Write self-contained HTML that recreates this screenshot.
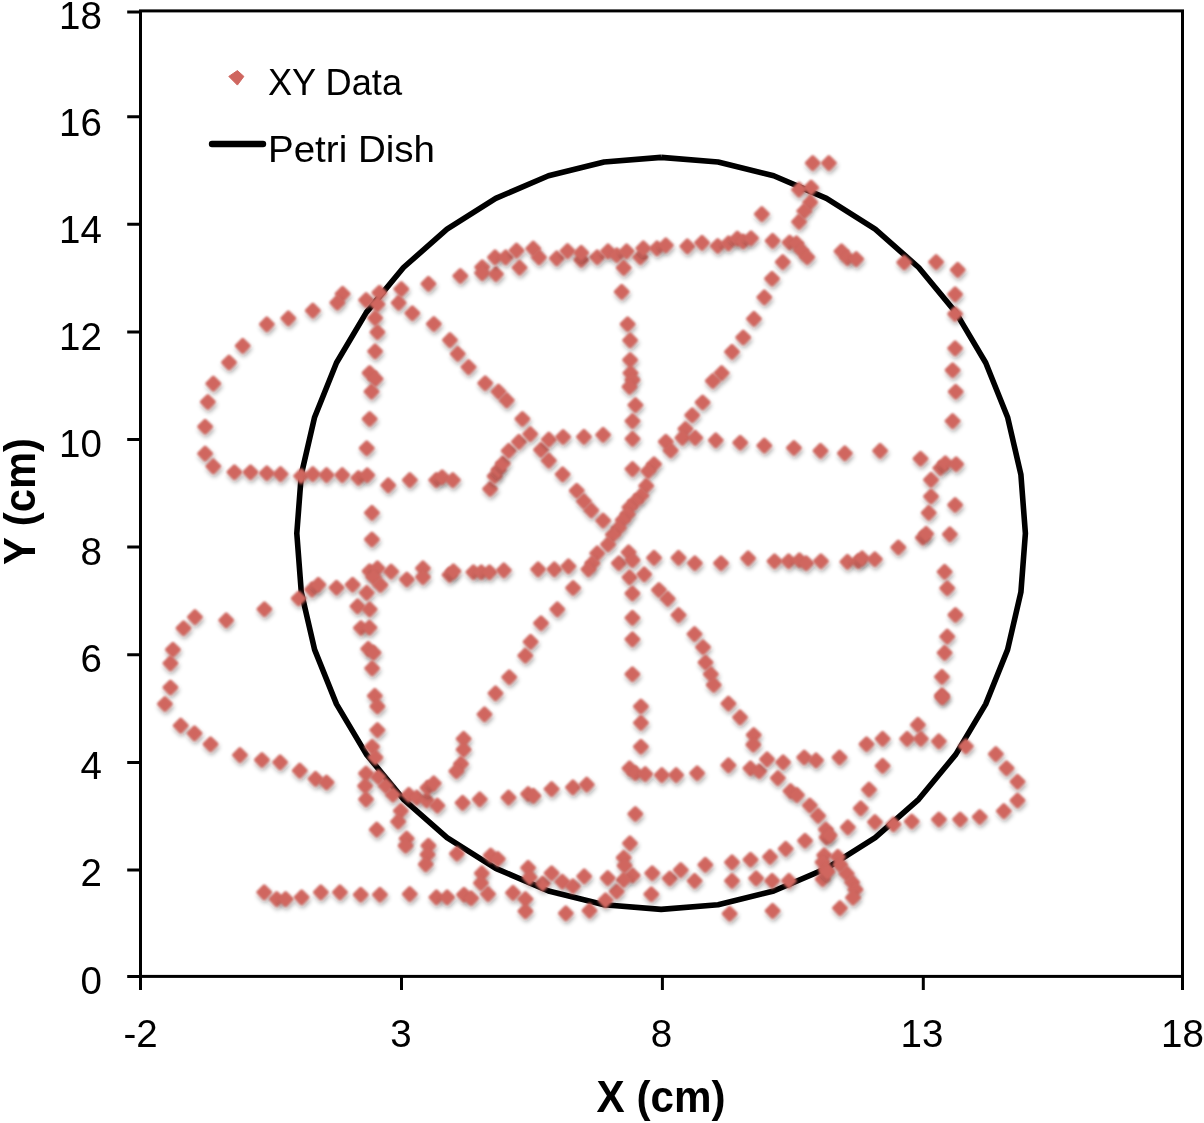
<!DOCTYPE html>
<html><head><meta charset="utf-8"><title>XY Data</title>
<style>
html,body{margin:0;padding:0;background:#fff;}
svg{display:block;}
text{font-family:"Liberation Sans",sans-serif;fill:#000;}
</style></head><body>
<svg width="1204" height="1123" viewBox="0 0 1204 1123">
<defs>
<filter id="sh" x="-60%" y="-60%" width="240%" height="240%"><feGaussianBlur in="SourceAlpha" stdDeviation="2.4"/><feOffset dx="0.8" dy="2.6"/><feComponentTransfer result="s"><feFuncA type="linear" slope="0.38"/></feComponentTransfer><feGaussianBlur in="SourceGraphic" stdDeviation="0.85" result="g"/><feMerge><feMergeNode in="s"/><feMergeNode in="g"/></feMerge></filter>
<path id="d" d="M-0.8-7.7L0.8-7.7L7.7-0.8L7.7 0.8L0.8 7.7L-0.8 7.7L-7.7 0.8L-7.7-0.8Z"/>
</defs>
<rect width="1204" height="1123" fill="#fff"/>
<rect x="140.5" y="10.9" width="1042.0" height="965.5" fill="none" stroke="#000" stroke-width="3"/>
<path d="M127.2 976.4H140.5 M127.2 870.0H140.5 M127.2 762.4H140.5 M127.2 654.8H140.5 M127.2 547.1H140.5 M127.2 439.5H140.5 M127.2 331.9H140.5 M127.2 224.3H140.5 M127.2 116.7H140.5 M127.2 12.0H140.5 M140.5 976.4V990 M401.5 976.4V990 M662.4 976.4V990 M923.3 976.4V990 M1182.5 976.4V990" stroke="#000" stroke-width="3" fill="none"/>
<text x="101.8" y="993.7" font-size="38.5" text-anchor="end">0</text>
<text x="101.8" y="886.4" font-size="38.5" text-anchor="end">2</text>
<text x="101.8" y="779.1" font-size="38.5" text-anchor="end">4</text>
<text x="101.8" y="671.9" font-size="38.5" text-anchor="end">6</text>
<text x="101.8" y="564.6" font-size="38.5" text-anchor="end">8</text>
<text x="101.8" y="457.3" font-size="38.5" text-anchor="end">10</text>
<text x="101.8" y="350.0" font-size="38.5" text-anchor="end">12</text>
<text x="101.8" y="242.8" font-size="38.5" text-anchor="end">14</text>
<text x="101.8" y="135.5" font-size="38.5" text-anchor="end">16</text>
<text x="101.8" y="29.4" font-size="38.5" text-anchor="end">18</text>
<text x="140.5" y="1046.7" font-size="38.5" text-anchor="middle">-2</text>
<text x="401.0" y="1046.7" font-size="38.5" text-anchor="middle">3</text>
<text x="661.5" y="1046.7" font-size="38.5" text-anchor="middle">8</text>
<text x="922.0" y="1046.7" font-size="38.5" text-anchor="middle">13</text>
<text x="1182.5" y="1046.7" font-size="38.5" text-anchor="middle">18</text>
<text x="661" y="1112" font-size="44.5" font-weight="bold" text-anchor="middle" textLength="129" lengthAdjust="spacingAndGlyphs">X (cm)</text>
<text transform="translate(35.2 501.5) rotate(-90)" font-size="44.5" font-weight="bold" text-anchor="middle" textLength="127" lengthAdjust="spacingAndGlyphs">Y (cm)</text>
<polyline points="661.1,157.4 718.1,162.0 773.7,175.8 826.5,198.4 875.2,229.2 918.7,267.5 955.8,312.4 985.7,362.7 1007.6,417.2 1020.9,474.6 1025.4,533.4 1020.9,592.2 1007.6,649.6 985.7,704.1 955.8,754.4 918.7,799.3 875.2,837.6 826.5,868.4 773.7,891.0 718.1,904.8 661.1,909.4 604.1,904.8 548.5,891.0 495.7,868.4 447.0,837.6 403.5,799.3 366.4,754.4 336.5,704.1 314.6,649.6 301.3,592.2 296.8,533.4 301.3,474.6 314.6,417.2 336.5,362.7 366.4,312.4 403.5,267.5 447.0,229.2 495.7,198.4 548.5,175.8 604.1,162.0 661.1,157.4" fill="none" stroke="#000" stroke-width="5.6" stroke-linejoin="round"/>
<g fill="#d0665f">
<use href="#d" x="342.6" y="293.8" filter="url(#sh)"/><use href="#d" x="337.3" y="302.6" filter="url(#sh)"/><use href="#d" x="312.8" y="310.5" filter="url(#sh)"/><use href="#d" x="288.3" y="318.3" filter="url(#sh)"/><use href="#d" x="266.8" y="324.2" filter="url(#sh)"/><use href="#d" x="242.7" y="345.7" filter="url(#sh)"/><use href="#d" x="229.0" y="362.4" filter="url(#sh)"/><use href="#d" x="213.3" y="383.5" filter="url(#sh)"/><use href="#d" x="207.8" y="401.9" filter="url(#sh)"/><use href="#d" x="205.1" y="426.6" filter="url(#sh)"/><use href="#d" x="205.1" y="453.5" filter="url(#sh)"/><use href="#d" x="213.3" y="466.2" filter="url(#sh)"/><use href="#d" x="234.4" y="472.1" filter="url(#sh)"/><use href="#d" x="250.5" y="472.1" filter="url(#sh)"/><use href="#d" x="266.8" y="473.1" filter="url(#sh)"/><use href="#d" x="280.5" y="474.0" filter="url(#sh)"/><use href="#d" x="301.1" y="476.0" filter="url(#sh)"/><use href="#d" x="312.8" y="474.0" filter="url(#sh)"/><use href="#d" x="326.5" y="475.0" filter="url(#sh)"/><use href="#d" x="342.2" y="475.0" filter="url(#sh)"/><use href="#d" x="366.1" y="300.0" filter="url(#sh)"/><use href="#d" x="379.4" y="292.6" filter="url(#sh)"/><use href="#d" x="377.4" y="304.3" filter="url(#sh)"/><use href="#d" x="375.1" y="318.0" filter="url(#sh)"/><use href="#d" x="377.4" y="332.1" filter="url(#sh)"/><use href="#d" x="375.1" y="351.3" filter="url(#sh)"/><use href="#d" x="369.6" y="372.9" filter="url(#sh)"/><use href="#d" x="375.5" y="378.8" filter="url(#sh)"/><use href="#d" x="371.5" y="391.5" filter="url(#sh)"/><use href="#d" x="369.6" y="418.9" filter="url(#sh)"/><use href="#d" x="401.3" y="289.0" filter="url(#sh)"/><use href="#d" x="398.6" y="302.8" filter="url(#sh)"/><use href="#d" x="412.3" y="313.1" filter="url(#sh)"/><use href="#d" x="433.8" y="323.9" filter="url(#sh)"/><use href="#d" x="449.9" y="340.0" filter="url(#sh)"/><use href="#d" x="457.7" y="353.7" filter="url(#sh)"/><use href="#d" x="468.5" y="367.0" filter="url(#sh)"/><use href="#d" x="485.2" y="383.1" filter="url(#sh)"/><use href="#d" x="498.5" y="391.5" filter="url(#sh)"/><use href="#d" x="506.7" y="400.3" filter="url(#sh)"/><use href="#d" x="522.4" y="418.9" filter="url(#sh)"/><use href="#d" x="428.4" y="283.8" filter="url(#sh)"/><use href="#d" x="460.3" y="275.9" filter="url(#sh)"/><use href="#d" x="482.2" y="267.1" filter="url(#sh)"/><use href="#d" x="482.2" y="273.0" filter="url(#sh)"/><use href="#d" x="495.9" y="274.0" filter="url(#sh)"/><use href="#d" x="495.0" y="257.3" filter="url(#sh)"/><use href="#d" x="505.7" y="257.3" filter="url(#sh)"/><use href="#d" x="516.5" y="250.5" filter="url(#sh)"/><use href="#d" x="519.5" y="267.5" filter="url(#sh)"/><use href="#d" x="533.2" y="248.5" filter="url(#sh)"/><use href="#d" x="539.0" y="257.3" filter="url(#sh)"/><use href="#d" x="556.7" y="258.3" filter="url(#sh)"/><use href="#d" x="567.5" y="251.0" filter="url(#sh)"/><use href="#d" x="581.2" y="259.9" filter="url(#sh)"/><use href="#d" x="597.2" y="257.1" filter="url(#sh)"/><use href="#d" x="608.0" y="251.2" filter="url(#sh)"/><use href="#d" x="616.8" y="255.1" filter="url(#sh)"/><use href="#d" x="626.6" y="251.2" filter="url(#sh)"/><use href="#d" x="623.7" y="267.8" filter="url(#sh)"/><use href="#d" x="640.3" y="257.1" filter="url(#sh)"/><use href="#d" x="643.3" y="248.2" filter="url(#sh)"/><use href="#d" x="657.0" y="248.2" filter="url(#sh)"/><use href="#d" x="665.8" y="245.3" filter="url(#sh)"/><use href="#d" x="687.3" y="246.3" filter="url(#sh)"/><use href="#d" x="702.0" y="242.8" filter="url(#sh)"/><use href="#d" x="717.7" y="245.9" filter="url(#sh)"/><use href="#d" x="728.5" y="243.3" filter="url(#sh)"/><use href="#d" x="737.3" y="238.5" filter="url(#sh)"/><use href="#d" x="743.2" y="241.4" filter="url(#sh)"/><use href="#d" x="751.0" y="238.1" filter="url(#sh)"/><use href="#d" x="772.6" y="240.8" filter="url(#sh)"/><use href="#d" x="761.8" y="214.0" filter="url(#sh)"/><use href="#d" x="621.7" y="291.7" filter="url(#sh)"/><use href="#d" x="627.6" y="324.1" filter="url(#sh)"/><use href="#d" x="630.1" y="340.3" filter="url(#sh)"/><use href="#d" x="630.1" y="359.9" filter="url(#sh)"/><use href="#d" x="772.0" y="278.6" filter="url(#sh)"/><use href="#d" x="764.3" y="297.2" filter="url(#sh)"/><use href="#d" x="753.9" y="318.8" filter="url(#sh)"/><use href="#d" x="743.2" y="337.4" filter="url(#sh)"/><use href="#d" x="732.0" y="351.7" filter="url(#sh)"/><use href="#d" x="812.7" y="163.0" filter="url(#sh)"/><use href="#d" x="828.8" y="163.0" filter="url(#sh)"/><use href="#d" x="799.0" y="189.5" filter="url(#sh)"/><use href="#d" x="811.1" y="187.5" filter="url(#sh)"/><use href="#d" x="810.2" y="202.2" filter="url(#sh)"/><use href="#d" x="804.3" y="211.0" filter="url(#sh)"/><use href="#d" x="799.0" y="221.8" filter="url(#sh)"/><use href="#d" x="789.6" y="242.4" filter="url(#sh)"/><use href="#d" x="796.4" y="243.3" filter="url(#sh)"/><use href="#d" x="801.3" y="250.2" filter="url(#sh)"/><use href="#d" x="807.2" y="257.1" filter="url(#sh)"/><use href="#d" x="782.7" y="262.0" filter="url(#sh)"/><use href="#d" x="841.5" y="251.2" filter="url(#sh)"/><use href="#d" x="847.4" y="258.0" filter="url(#sh)"/><use href="#d" x="856.2" y="259.0" filter="url(#sh)"/><use href="#d" x="904.2" y="262.4" filter="url(#sh)"/><use href="#d" x="936.1" y="262.0" filter="url(#sh)"/><use href="#d" x="957.7" y="269.8" filter="url(#sh)"/><use href="#d" x="955.1" y="294.3" filter="url(#sh)"/><use href="#d" x="955.1" y="313.9" filter="url(#sh)"/><use href="#d" x="955.1" y="348.2" filter="url(#sh)"/><use href="#d" x="358.4" y="477.9" filter="url(#sh)"/><use href="#d" x="194.9" y="617.0" filter="url(#sh)"/><use href="#d" x="264.4" y="609.1" filter="url(#sh)"/><use href="#d" x="298.7" y="598.4" filter="url(#sh)"/><use href="#d" x="312.0" y="589.5" filter="url(#sh)"/><use href="#d" x="318.3" y="584.6" filter="url(#sh)"/><use href="#d" x="336.5" y="587.6" filter="url(#sh)"/><use href="#d" x="352.6" y="584.6" filter="url(#sh)"/><use href="#d" x="357.5" y="606.2" filter="url(#sh)"/><use href="#d" x="366.7" y="448.1" filter="url(#sh)"/><use href="#d" x="367.2" y="475.1" filter="url(#sh)"/><use href="#d" x="371.9" y="512.8" filter="url(#sh)"/><use href="#d" x="371.9" y="539.4" filter="url(#sh)"/><use href="#d" x="388.2" y="485.3" filter="url(#sh)"/><use href="#d" x="409.8" y="480.0" filter="url(#sh)"/><use href="#d" x="436.2" y="480.0" filter="url(#sh)"/><use href="#d" x="442.1" y="477.1" filter="url(#sh)"/><use href="#d" x="452.8" y="480.0" filter="url(#sh)"/><use href="#d" x="490.1" y="488.9" filter="url(#sh)"/><use href="#d" x="494.6" y="476.1" filter="url(#sh)"/><use href="#d" x="498.5" y="469.7" filter="url(#sh)"/><use href="#d" x="502.8" y="463.4" filter="url(#sh)"/><use href="#d" x="508.7" y="450.7" filter="url(#sh)"/><use href="#d" x="518.9" y="441.8" filter="url(#sh)"/><use href="#d" x="530.2" y="434.0" filter="url(#sh)"/><use href="#d" x="541.0" y="449.7" filter="url(#sh)"/><use href="#d" x="548.8" y="460.5" filter="url(#sh)"/><use href="#d" x="562.6" y="474.2" filter="url(#sh)"/><use href="#d" x="548.8" y="439.5" filter="url(#sh)"/><use href="#d" x="563.1" y="436.9" filter="url(#sh)"/><use href="#d" x="369.6" y="571.1" filter="url(#sh)"/><use href="#d" x="377.4" y="568.2" filter="url(#sh)"/><use href="#d" x="373.5" y="577.0" filter="url(#sh)"/><use href="#d" x="380.4" y="584.9" filter="url(#sh)"/><use href="#d" x="391.1" y="571.5" filter="url(#sh)"/><use href="#d" x="406.8" y="579.4" filter="url(#sh)"/><use href="#d" x="422.9" y="568.2" filter="url(#sh)"/><use href="#d" x="422.9" y="577.0" filter="url(#sh)"/><use href="#d" x="449.5" y="574.7" filter="url(#sh)"/><use href="#d" x="453.4" y="571.1" filter="url(#sh)"/><use href="#d" x="473.4" y="572.1" filter="url(#sh)"/><use href="#d" x="481.3" y="572.1" filter="url(#sh)"/><use href="#d" x="489.5" y="572.1" filter="url(#sh)"/><use href="#d" x="503.8" y="570.2" filter="url(#sh)"/><use href="#d" x="538.1" y="569.2" filter="url(#sh)"/><use href="#d" x="554.3" y="569.2" filter="url(#sh)"/><use href="#d" x="568.4" y="566.2" filter="url(#sh)"/><use href="#d" x="366.7" y="592.7" filter="url(#sh)"/><use href="#d" x="369.6" y="609.3" filter="url(#sh)"/><use href="#d" x="360.9" y="627.9" filter="url(#sh)"/><use href="#d" x="369.4" y="627.5" filter="url(#sh)"/><use href="#d" x="557.3" y="609.3" filter="url(#sh)"/><use href="#d" x="541.0" y="623.1" filter="url(#sh)"/><use href="#d" x="630.5" y="373.0" filter="url(#sh)"/><use href="#d" x="632.5" y="379.9" filter="url(#sh)"/><use href="#d" x="629.5" y="386.7" filter="url(#sh)"/><use href="#d" x="635.4" y="405.0" filter="url(#sh)"/><use href="#d" x="632.5" y="421.0" filter="url(#sh)"/><use href="#d" x="632.5" y="438.7" filter="url(#sh)"/><use href="#d" x="632.5" y="469.0" filter="url(#sh)"/><use href="#d" x="583.9" y="436.7" filter="url(#sh)"/><use href="#d" x="603.1" y="434.7" filter="url(#sh)"/><use href="#d" x="715.7" y="440.2" filter="url(#sh)"/><use href="#d" x="740.2" y="442.6" filter="url(#sh)"/><use href="#d" x="764.3" y="445.5" filter="url(#sh)"/><use href="#d" x="721.6" y="373.0" filter="url(#sh)"/><use href="#d" x="712.8" y="380.9" filter="url(#sh)"/><use href="#d" x="702.6" y="402.4" filter="url(#sh)"/><use href="#d" x="692.2" y="415.1" filter="url(#sh)"/><use href="#d" x="685.4" y="428.9" filter="url(#sh)"/><use href="#d" x="682.4" y="437.7" filter="url(#sh)"/><use href="#d" x="695.2" y="437.7" filter="url(#sh)"/><use href="#d" x="665.8" y="441.6" filter="url(#sh)"/><use href="#d" x="670.7" y="450.4" filter="url(#sh)"/><use href="#d" x="654.0" y="464.1" filter="url(#sh)"/><use href="#d" x="648.2" y="471.0" filter="url(#sh)"/><use href="#d" x="646.2" y="485.7" filter="url(#sh)"/><use href="#d" x="641.3" y="495.5" filter="url(#sh)"/><use href="#d" x="635.4" y="501.3" filter="url(#sh)"/><use href="#d" x="629.5" y="507.2" filter="url(#sh)"/><use href="#d" x="627.6" y="514.1" filter="url(#sh)"/><use href="#d" x="622.7" y="520.0" filter="url(#sh)"/><use href="#d" x="618.8" y="527.8" filter="url(#sh)"/><use href="#d" x="612.9" y="534.6" filter="url(#sh)"/><use href="#d" x="608.0" y="544.4" filter="url(#sh)"/><use href="#d" x="597.2" y="553.3" filter="url(#sh)"/><use href="#d" x="592.3" y="563.1" filter="url(#sh)"/><use href="#d" x="576.7" y="490.6" filter="url(#sh)"/><use href="#d" x="583.9" y="501.3" filter="url(#sh)"/><use href="#d" x="591.3" y="510.2" filter="url(#sh)"/><use href="#d" x="603.1" y="520.5" filter="url(#sh)"/><use href="#d" x="618.8" y="563.1" filter="url(#sh)"/><use href="#d" x="628.6" y="552.3" filter="url(#sh)"/><use href="#d" x="632.5" y="560.1" filter="url(#sh)"/><use href="#d" x="654.0" y="557.8" filter="url(#sh)"/><use href="#d" x="678.5" y="557.8" filter="url(#sh)"/><use href="#d" x="694.8" y="563.1" filter="url(#sh)"/><use href="#d" x="721.0" y="563.1" filter="url(#sh)"/><use href="#d" x="748.1" y="558.2" filter="url(#sh)"/><use href="#d" x="774.5" y="561.1" filter="url(#sh)"/><use href="#d" x="952.6" y="370.1" filter="url(#sh)"/><use href="#d" x="955.7" y="391.6" filter="url(#sh)"/><use href="#d" x="952.6" y="421.0" filter="url(#sh)"/><use href="#d" x="793.9" y="447.9" filter="url(#sh)"/><use href="#d" x="820.5" y="450.8" filter="url(#sh)"/><use href="#d" x="844.8" y="453.3" filter="url(#sh)"/><use href="#d" x="880.1" y="450.8" filter="url(#sh)"/><use href="#d" x="920.5" y="458.6" filter="url(#sh)"/><use href="#d" x="940.4" y="468.0" filter="url(#sh)"/><use href="#d" x="945.3" y="463.1" filter="url(#sh)"/><use href="#d" x="956.1" y="464.1" filter="url(#sh)"/><use href="#d" x="931.0" y="479.8" filter="url(#sh)"/><use href="#d" x="931.0" y="496.4" filter="url(#sh)"/><use href="#d" x="928.7" y="512.7" filter="url(#sh)"/><use href="#d" x="955.1" y="504.9" filter="url(#sh)"/><use href="#d" x="922.8" y="537.6" filter="url(#sh)"/><use href="#d" x="926.1" y="533.7" filter="url(#sh)"/><use href="#d" x="949.8" y="534.3" filter="url(#sh)"/><use href="#d" x="898.3" y="547.4" filter="url(#sh)"/><use href="#d" x="788.6" y="561.1" filter="url(#sh)"/><use href="#d" x="799.4" y="560.1" filter="url(#sh)"/><use href="#d" x="806.2" y="563.1" filter="url(#sh)"/><use href="#d" x="820.9" y="561.1" filter="url(#sh)"/><use href="#d" x="847.4" y="561.7" filter="url(#sh)"/><use href="#d" x="858.2" y="561.1" filter="url(#sh)"/><use href="#d" x="862.1" y="558.2" filter="url(#sh)"/><use href="#d" x="874.8" y="559.1" filter="url(#sh)"/><use href="#d" x="226.2" y="620.3" filter="url(#sh)"/><use href="#d" x="183.5" y="628.1" filter="url(#sh)"/><use href="#d" x="172.9" y="649.6" filter="url(#sh)"/><use href="#d" x="170.4" y="663.3" filter="url(#sh)"/><use href="#d" x="170.4" y="687.4" filter="url(#sh)"/><use href="#d" x="164.9" y="703.9" filter="url(#sh)"/><use href="#d" x="180.7" y="725.5" filter="url(#sh)"/><use href="#d" x="194.5" y="733.3" filter="url(#sh)"/><use href="#d" x="210.5" y="744.1" filter="url(#sh)"/><use href="#d" x="239.9" y="755.0" filter="url(#sh)"/><use href="#d" x="261.9" y="759.9" filter="url(#sh)"/><use href="#d" x="280.1" y="762.3" filter="url(#sh)"/><use href="#d" x="299.7" y="770.5" filter="url(#sh)"/><use href="#d" x="368.2" y="648.7" filter="url(#sh)"/><use href="#d" x="373.5" y="652.6" filter="url(#sh)"/><use href="#d" x="372.1" y="668.2" filter="url(#sh)"/><use href="#d" x="374.8" y="695.7" filter="url(#sh)"/><use href="#d" x="377.4" y="706.4" filter="url(#sh)"/><use href="#d" x="377.4" y="730.0" filter="url(#sh)"/><use href="#d" x="372.1" y="746.6" filter="url(#sh)"/><use href="#d" x="375.4" y="757.4" filter="url(#sh)"/><use href="#d" x="509.2" y="677.1" filter="url(#sh)"/><use href="#d" x="495.5" y="693.3" filter="url(#sh)"/><use href="#d" x="484.5" y="714.3" filter="url(#sh)"/><use href="#d" x="463.6" y="738.8" filter="url(#sh)"/><use href="#d" x="463.6" y="749.5" filter="url(#sh)"/><use href="#d" x="461.0" y="763.8" filter="url(#sh)"/><use href="#d" x="456.3" y="771.1" filter="url(#sh)"/><use href="#d" x="588.4" y="569.3" filter="url(#sh)"/><use href="#d" x="573.1" y="587.9" filter="url(#sh)"/><use href="#d" x="530.6" y="641.8" filter="url(#sh)"/><use href="#d" x="525.3" y="655.5" filter="url(#sh)"/><use href="#d" x="629.5" y="577.2" filter="url(#sh)"/><use href="#d" x="644.2" y="574.2" filter="url(#sh)"/><use href="#d" x="632.4" y="593.4" filter="url(#sh)"/><use href="#d" x="632.4" y="617.7" filter="url(#sh)"/><use href="#d" x="632.4" y="639.3" filter="url(#sh)"/><use href="#d" x="632.4" y="674.1" filter="url(#sh)"/><use href="#d" x="640.9" y="706.4" filter="url(#sh)"/><use href="#d" x="640.9" y="722.7" filter="url(#sh)"/><use href="#d" x="640.9" y="746.6" filter="url(#sh)"/><use href="#d" x="658.9" y="589.9" filter="url(#sh)"/><use href="#d" x="667.7" y="598.7" filter="url(#sh)"/><use href="#d" x="678.5" y="615.0" filter="url(#sh)"/><use href="#d" x="694.5" y="634.0" filter="url(#sh)"/><use href="#d" x="703.0" y="647.1" filter="url(#sh)"/><use href="#d" x="705.5" y="662.4" filter="url(#sh)"/><use href="#d" x="710.8" y="674.1" filter="url(#sh)"/><use href="#d" x="713.7" y="684.9" filter="url(#sh)"/><use href="#d" x="728.4" y="703.5" filter="url(#sh)"/><use href="#d" x="629.5" y="768.2" filter="url(#sh)"/><use href="#d" x="635.4" y="773.1" filter="url(#sh)"/><use href="#d" x="645.2" y="774.0" filter="url(#sh)"/><use href="#d" x="661.8" y="775.0" filter="url(#sh)"/><use href="#d" x="676.1" y="775.0" filter="url(#sh)"/><use href="#d" x="697.1" y="773.1" filter="url(#sh)"/><use href="#d" x="728.4" y="765.2" filter="url(#sh)"/><use href="#d" x="740.0" y="717.2" filter="url(#sh)"/><use href="#d" x="753.7" y="734.9" filter="url(#sh)"/><use href="#d" x="753.3" y="744.6" filter="url(#sh)"/><use href="#d" x="750.4" y="768.2" filter="url(#sh)"/><use href="#d" x="759.2" y="771.1" filter="url(#sh)"/><use href="#d" x="767.0" y="759.3" filter="url(#sh)"/><use href="#d" x="783.1" y="762.3" filter="url(#sh)"/><use href="#d" x="777.8" y="778.0" filter="url(#sh)"/><use href="#d" x="804.2" y="757.4" filter="url(#sh)"/><use href="#d" x="816.0" y="760.3" filter="url(#sh)"/><use href="#d" x="839.5" y="757.4" filter="url(#sh)"/><use href="#d" x="866.5" y="744.1" filter="url(#sh)"/><use href="#d" x="882.6" y="738.8" filter="url(#sh)"/><use href="#d" x="882.6" y="765.8" filter="url(#sh)"/><use href="#d" x="907.1" y="738.8" filter="url(#sh)"/><use href="#d" x="917.9" y="724.7" filter="url(#sh)"/><use href="#d" x="920.8" y="738.8" filter="url(#sh)"/><use href="#d" x="944.6" y="571.8" filter="url(#sh)"/><use href="#d" x="947.2" y="588.1" filter="url(#sh)"/><use href="#d" x="955.4" y="614.9" filter="url(#sh)"/><use href="#d" x="947.2" y="636.5" filter="url(#sh)"/><use href="#d" x="944.6" y="652.8" filter="url(#sh)"/><use href="#d" x="941.9" y="676.7" filter="url(#sh)"/><use href="#d" x="941.9" y="695.3" filter="url(#sh)"/><use href="#d" x="942.3" y="697.2" filter="url(#sh)"/><use href="#d" x="938.8" y="741.3" filter="url(#sh)"/><use href="#d" x="965.8" y="746.2" filter="url(#sh)"/><use href="#d" x="995.8" y="754.0" filter="url(#sh)"/><use href="#d" x="1006.5" y="768.1" filter="url(#sh)"/><use href="#d" x="1017.5" y="781.6" filter="url(#sh)"/><use href="#d" x="1017.5" y="800.4" filter="url(#sh)"/><use href="#d" x="1003.8" y="811.0" filter="url(#sh)"/><use href="#d" x="979.7" y="816.9" filter="url(#sh)"/><use href="#d" x="960.1" y="819.4" filter="url(#sh)"/><use href="#d" x="938.9" y="819.4" filter="url(#sh)"/><use href="#d" x="911.7" y="821.4" filter="url(#sh)"/><use href="#d" x="893.5" y="824.3" filter="url(#sh)"/><use href="#d" x="874.9" y="822.0" filter="url(#sh)"/><use href="#d" x="847.8" y="827.3" filter="url(#sh)"/><use href="#d" x="860.7" y="808.3" filter="url(#sh)"/><use href="#d" x="869.0" y="789.5" filter="url(#sh)"/><use href="#d" x="790.5" y="791.0" filter="url(#sh)"/><use href="#d" x="796.9" y="795.0" filter="url(#sh)"/><use href="#d" x="809.8" y="805.4" filter="url(#sh)"/><use href="#d" x="818.1" y="815.8" filter="url(#sh)"/><use href="#d" x="825.8" y="829.4" filter="url(#sh)"/><use href="#d" x="826.6" y="837.4" filter="url(#sh)"/><use href="#d" x="824.2" y="855.1" filter="url(#sh)"/><use href="#d" x="822.6" y="862.3" filter="url(#sh)"/><use href="#d" x="825.8" y="869.5" filter="url(#sh)"/><use href="#d" x="822.6" y="879.1" filter="url(#sh)"/><use href="#d" x="837.8" y="856.7" filter="url(#sh)"/><use href="#d" x="840.2" y="864.7" filter="url(#sh)"/><use href="#d" x="846.6" y="873.5" filter="url(#sh)"/><use href="#d" x="852.2" y="882.3" filter="url(#sh)"/><use href="#d" x="855.4" y="889.5" filter="url(#sh)"/><use href="#d" x="853.0" y="897.5" filter="url(#sh)"/><use href="#d" x="839.9" y="908.0" filter="url(#sh)"/><use href="#d" x="805.0" y="840.6" filter="url(#sh)"/><use href="#d" x="785.7" y="848.7" filter="url(#sh)"/><use href="#d" x="770.0" y="856.7" filter="url(#sh)"/><use href="#d" x="750.5" y="859.6" filter="url(#sh)"/><use href="#d" x="732.0" y="862.3" filter="url(#sh)"/><use href="#d" x="732.0" y="880.7" filter="url(#sh)"/><use href="#d" x="756.1" y="878.3" filter="url(#sh)"/><use href="#d" x="772.1" y="880.7" filter="url(#sh)"/><use href="#d" x="788.9" y="880.7" filter="url(#sh)"/><use href="#d" x="729.6" y="913.6" filter="url(#sh)"/><use href="#d" x="772.6" y="910.8" filter="url(#sh)"/><use href="#d" x="551.6" y="789.0" filter="url(#sh)"/><use href="#d" x="572.9" y="787.2" filter="url(#sh)"/><use href="#d" x="586.7" y="784.5" filter="url(#sh)"/><use href="#d" x="635.3" y="813.9" filter="url(#sh)"/><use href="#d" x="629.9" y="843.3" filter="url(#sh)"/><use href="#d" x="623.7" y="857.6" filter="url(#sh)"/><use href="#d" x="624.6" y="865.6" filter="url(#sh)"/><use href="#d" x="632.6" y="875.4" filter="url(#sh)"/><use href="#d" x="623.7" y="879.8" filter="url(#sh)"/><use href="#d" x="616.6" y="891.4" filter="url(#sh)"/><use href="#d" x="605.5" y="900.3" filter="url(#sh)"/><use href="#d" x="542.7" y="883.4" filter="url(#sh)"/><use href="#d" x="551.6" y="873.1" filter="url(#sh)"/><use href="#d" x="562.3" y="881.6" filter="url(#sh)"/><use href="#d" x="572.9" y="886.1" filter="url(#sh)"/><use href="#d" x="584.2" y="876.3" filter="url(#sh)"/><use href="#d" x="607.7" y="878.0" filter="url(#sh)"/><use href="#d" x="652.2" y="873.1" filter="url(#sh)"/><use href="#d" x="651.3" y="894.1" filter="url(#sh)"/><use href="#d" x="669.7" y="878.4" filter="url(#sh)"/><use href="#d" x="680.7" y="870.0" filter="url(#sh)"/><use href="#d" x="694.6" y="880.7" filter="url(#sh)"/><use href="#d" x="705.3" y="864.7" filter="url(#sh)"/><use href="#d" x="565.8" y="913.3" filter="url(#sh)"/><use href="#d" x="589.5" y="910.5" filter="url(#sh)"/><use href="#d" x="366.0" y="773.4" filter="url(#sh)"/><use href="#d" x="365.1" y="785.9" filter="url(#sh)"/><use href="#d" x="366.0" y="799.3" filter="url(#sh)"/><use href="#d" x="378.3" y="776.9" filter="url(#sh)"/><use href="#d" x="385.8" y="785.7" filter="url(#sh)"/><use href="#d" x="393.0" y="794.6" filter="url(#sh)"/><use href="#d" x="408.8" y="794.8" filter="url(#sh)"/><use href="#d" x="416.8" y="797.5" filter="url(#sh)"/><use href="#d" x="426.6" y="800.2" filter="url(#sh)"/><use href="#d" x="437.3" y="805.5" filter="url(#sh)"/><use href="#d" x="427.5" y="787.7" filter="url(#sh)"/><use href="#d" x="433.7" y="783.2" filter="url(#sh)"/><use href="#d" x="400.8" y="810.8" filter="url(#sh)"/><use href="#d" x="398.1" y="821.5" filter="url(#sh)"/><use href="#d" x="376.7" y="829.5" filter="url(#sh)"/><use href="#d" x="406.6" y="838.5" filter="url(#sh)"/><use href="#d" x="405.6" y="845.6" filter="url(#sh)"/><use href="#d" x="428.4" y="845.6" filter="url(#sh)"/><use href="#d" x="427.5" y="854.5" filter="url(#sh)"/><use href="#d" x="425.7" y="864.3" filter="url(#sh)"/><use href="#d" x="462.6" y="802.8" filter="url(#sh)"/><use href="#d" x="479.7" y="799.3" filter="url(#sh)"/><use href="#d" x="508.5" y="797.5" filter="url(#sh)"/><use href="#d" x="528.1" y="793.9" filter="url(#sh)"/><use href="#d" x="533.4" y="795.7" filter="url(#sh)"/><use href="#d" x="456.9" y="853.6" filter="url(#sh)"/><use href="#d" x="490.7" y="855.4" filter="url(#sh)"/><use href="#d" x="497.8" y="858.9" filter="url(#sh)"/><use href="#d" x="528.1" y="867.8" filter="url(#sh)"/><use href="#d" x="481.8" y="873.2" filter="url(#sh)"/><use href="#d" x="480.9" y="883.0" filter="url(#sh)"/><use href="#d" x="360.7" y="894.6" filter="url(#sh)"/><use href="#d" x="379.9" y="894.6" filter="url(#sh)"/><use href="#d" x="409.7" y="894.0" filter="url(#sh)"/><use href="#d" x="436.4" y="897.2" filter="url(#sh)"/><use href="#d" x="447.1" y="897.2" filter="url(#sh)"/><use href="#d" x="464.0" y="894.6" filter="url(#sh)"/><use href="#d" x="471.1" y="898.1" filter="url(#sh)"/><use href="#d" x="488.0" y="894.0" filter="url(#sh)"/><use href="#d" x="513.0" y="892.8" filter="url(#sh)"/><use href="#d" x="525.4" y="899.0" filter="url(#sh)"/><use href="#d" x="525.4" y="911.1" filter="url(#sh)"/><use href="#d" x="315.5" y="778.8" filter="url(#sh)"/><use href="#d" x="326.5" y="782.4" filter="url(#sh)"/><use href="#d" x="264.2" y="892.2" filter="url(#sh)"/><use href="#d" x="276.7" y="899.0" filter="url(#sh)"/><use href="#d" x="285.6" y="899.0" filter="url(#sh)"/><use href="#d" x="301.6" y="897.2" filter="url(#sh)"/><use href="#d" x="320.8" y="892.2" filter="url(#sh)"/><use href="#d" x="339.9" y="892.2" filter="url(#sh)"/><use href="#d" x="529.7" y="877.2" filter="url(#sh)"/><use href="#d" x="829.6" y="835.2" filter="url(#sh)"/><use href="#d" x="827.4" y="871.7" filter="url(#sh)"/><use href="#d" x="581.2" y="252.8" filter="url(#sh)"/>
<path d="M228.8 76.4L237.4 70.6L243.9 76.4L237.4 85.1Z" fill="#cf665f" stroke="#cf665f" stroke-width="1" stroke-linejoin="round"/>
</g>
<path d="M212 144H263" stroke="#000" stroke-width="6.4" stroke-linecap="round"/>
<text x="268" y="94.9" font-size="37" textLength="134" lengthAdjust="spacingAndGlyphs">XY Data</text>
<text x="268" y="161.7" font-size="37" textLength="167" lengthAdjust="spacingAndGlyphs">Petri Dish</text>
</svg></body></html>
